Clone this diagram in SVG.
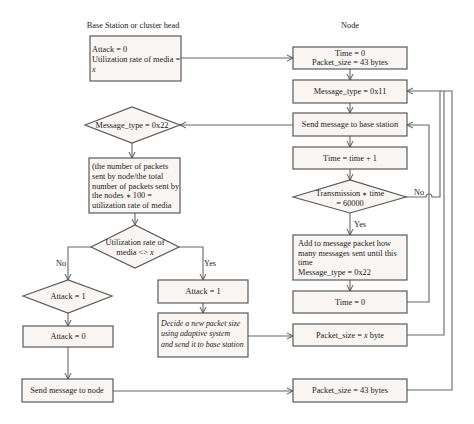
<svg xmlns="http://www.w3.org/2000/svg" width="474" height="424" viewBox="0 0 474 424">
<defs>
<marker id="ah" viewBox="0 0 8 8" refX="7" refY="4" markerWidth="8" markerHeight="8" markerUnits="userSpaceOnUse" orient="auto">
<path d="M1,1 L7,4 L1,7" fill="none" stroke="#555" stroke-width="1"/>
</marker>
</defs>
<style>
.b{fill:#f8f5f2;stroke:#5a5a5a;stroke-width:1.2}
.t{font-family:"Liberation Serif",serif;font-size:8.3px;fill:#222}
.c{text-anchor:middle}
.i{font-style:italic}
.s{font-size:7.9px}
.l{fill:none;stroke:#666;stroke-width:1.1}
.a{marker-end:url(#ah)}
</style>
<rect width="474" height="424" fill="#ffffff"/>
<text class="t c" x="133" y="28">Base Station or cluster head</text>
<text class="t c" x="350" y="28">Node</text>

<g id="connectors">
<path class="l a" d="M181,58 H293"/>
<path class="l a" d="M350,69 V80"/>
<path class="l a" d="M350,103 V113"/>
<path class="l a" d="M293,125 H180"/>
<path class="l a" d="M132,143 V158"/>
<path class="l a" d="M135,213 V225"/>
<path class="l a" d="M91,247 H68 V280"/>
<path class="l a" d="M179,247 H203 V280"/>
<path class="l a" d="M68,313 V326"/>
<path class="l a" d="M68,347 V379"/>
<path class="l a" d="M113,391 H293"/>
<path class="l a" d="M203,303 V313"/>
<path class="l a" d="M248,336 H293"/>
<path class="l a" d="M350,136 V147"/>
<path class="l a" d="M350,169 V180"/>
<path class="l a" d="M350,213 V235"/>
<path class="l a" d="M350,280 V291"/>
<path class="l a" d="M407,302 H429 V125 H407"/>
<path class="l a" d="M406,197 H426 A3,3 0 0 1 432,197 H440 V91 H407"/>
<path class="l" d="M407,335 H444 V91"/>
<path class="l" d="M407,390 H452 V91 H440"/>
<text class="t" x="56" y="266">No</text>
<text class="t" x="204" y="266">Yes</text>
<text class="t" x="414" y="195">No</text>
<text class="t" x="354" y="227">Yes</text>
</g>

<g id="bs-init">
<rect class="b" x="90" y="36" width="91" height="45"/>
<text class="t" x="92" y="52">Attack = 0</text>
<text class="t" x="92" y="62">Utilization rate of media =</text>
<text class="t i" x="92" y="72">x</text>
</g>
<g id="node-init">
<rect class="b" x="293" y="47" width="114" height="22"/>
<text class="t c" x="350" y="56">Time = 0</text>
<text class="t c" x="350" y="65">Packet_size = 43 bytes</text>
</g>
<g id="msg11">
<rect class="b" x="293" y="80" width="114" height="23"/>
<text class="t c" x="350" y="94">Message_type = 0x11</text>
</g>
<g id="send-bs">
<rect class="b" x="293" y="113" width="114" height="23"/>
<text class="t c" x="350" y="127">Send message to base station</text>
</g>
<g id="msg22">
<polygon class="b" points="85,125 132,107 180,125 132,143"/>
<text class="t c" x="132" y="128">Message_type = 0x22</text>
</g>
<g id="formula">
<rect class="b" x="89" y="158" width="91" height="55"/>
<text class="t" x="92" y="169">(the number of packets</text>
<text class="t" x="92" y="179">sent by node/the total</text>
<text class="t" x="92" y="189">number of packets sent by</text>
<text class="t" x="92" y="198">the nodes <tspan font-size="6px">∗</tspan> 100 =</text>
<text class="t" x="92" y="208">utilization rate of media</text>
</g>
<g id="util">
<polygon class="b" points="91,247 135,225 179,247 135,268"/>
<text class="t c" x="135" y="245">Utilization rate of</text>
<text class="t c" x="135" y="255">media &lt;&gt; <tspan class="i">x</tspan></text>
</g>
<g id="attack-check">
<polygon class="b" points="23,296 68,280 112,296 68,313"/>
<text class="t c" x="68" y="299">Attack = 1</text>
</g>
<g id="attack0">
<rect class="b" x="23" y="326" width="90" height="21"/>
<text class="t c" x="68" y="339">Attack = 0</text>
</g>
<g id="send-node">
<rect class="b" x="22" y="379" width="91" height="23"/>
<text class="t c" x="67" y="393">Send message to node</text>
</g>
<g id="attack1">
<rect class="b" x="158" y="280" width="90" height="23"/>
<text class="t c" x="203" y="294">Attack = 1</text>
</g>
<g id="decide">
<rect class="b" x="158" y="313" width="90" height="44"/>
<text class="t i s" x="161" y="326">Decide a new packet size</text>
<text class="t i s" x="161" y="336">using adaptive system</text>
<text class="t i s" x="161" y="347">and send it to base station</text>
</g>
<g id="time-inc">
<rect class="b" x="293" y="147" width="114" height="22"/>
<text class="t c" x="350" y="161">Time = time + 1</text>
</g>
<g id="trans">
<polygon class="b" points="293,197 350,180 406,197 350,213"/>
<text class="t c" x="350" y="196">Transmission <tspan font-size="6px">∗</tspan> time</text>
<text class="t c" x="350" y="206">= 60000</text>
</g>
<g id="add">
<rect class="b" x="293" y="235" width="114" height="45"/>
<text class="t" x="298" y="246">Add to message packet how</text>
<text class="t" x="298" y="256">many messages sent until this</text>
<text class="t" x="298" y="265">time</text>
<text class="t" x="298" y="275">Message_type = 0x22</text>
</g>
<g id="time0">
<rect class="b" x="293" y="291" width="114" height="22"/>
<text class="t c" x="350" y="305">Time = 0</text>
</g>
<g id="psx">
<rect class="b" x="293" y="324" width="114" height="22"/>
<text class="t c" x="350" y="338">Packet_size = <tspan class="i">x</tspan> byte</text>
</g>
<g id="ps43">
<rect class="b" x="293" y="379" width="114" height="23"/>
<text class="t c" x="350" y="393">Packet_size = 43 bytes</text>
</g>
</svg>
